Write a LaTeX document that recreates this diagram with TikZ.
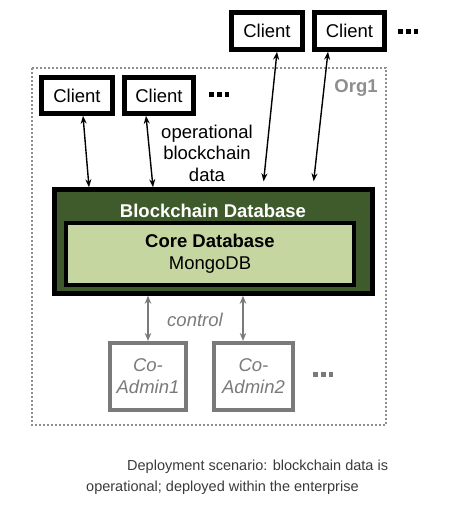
\documentclass[tikz,border=0pt]{standalone}
\usepackage{fontspec}
\setmainfont{Liberation Sans}
\usetikzlibrary{arrows.meta}
\definecolor{dkgreen}{HTML}{3F5A2B}
\definecolor{ltgreen}{HTML}{C5D6A0}
\definecolor{admgray}{HTML}{7A7A7A}
\definecolor{capgray}{HTML}{3A3A3A}
\tikzset{
  client/.style={draw=black, line width=4.5pt, fill=white, inner sep=0pt,
    font=\fontsize{18.5}{22}\selectfont},
  coadmin/.style={draw=admgray, line width=4.2pt, fill=white, inner sep=0pt, align=center,
    text=admgray, font=\fontsize{18.5}{22}\selectfont\itshape},
  link/.style={line width=1.4pt, {Stealth[length=8pt,width=6pt]}-{Stealth[length=8pt,width=6pt]}},
  ctrl/.style={draw=admgray, line width=2pt, {Stealth[length=8pt,width=6.5pt]}-{Stealth[length=8pt,width=6.5pt]}},
  lbl/.style={font=\fontsize{18.5}{21.5}\selectfont, align=center},
  dotsq/.style={fill=black, minimum size=5pt, inner sep=0pt},
}
\begin{document}
\begin{tikzpicture}[x=1pt,y=-1pt]
\useasboundingbox (0,0) rectangle (454,507);
% Org1 frame
\draw[admgray!85, line width=2.6pt, dash pattern=on 1.8pt off 2.2pt] (32,68) rectangle (386,425);
\node[font=\fontsize{18.5}{22}\selectfont\bfseries, text=admgray!85] (org) at (356,88) {Org1};
% top clients
\node[client, minimum width=71pt, minimum height=37pt] (tc1) at (267,31) {Client};
\node[client, minimum width=70pt, minimum height=37pt] (tc2) at (349.5,31) {Client};
\node[dotsq] (td1) at (400,31) {};
\node[dotsq] (td2) at (408,31) {};
\node[dotsq, minimum width=4pt] (td3) at (415.5,31) {};
% inner clients
\node[client, minimum width=71pt, minimum height=36pt] (c1) at (77,95.5) {Client};
\node[client, minimum width=69pt, minimum height=36pt] (c2) at (159,95.5) {Client};
\node[dotsq] (d1) at (211,94) {};
\node[dotsq] (d2) at (219,94) {};
\node[dotsq, minimum width=4pt] (d3) at (226.5,94) {};
% blockchain database
\node[draw=black, fill=dkgreen, line width=4.5pt, minimum width=318pt, minimum height=104pt, inner sep=0pt] (bdb) at (213.5,241.5) {};
\node[font=\fontsize{18.5}{22}\selectfont\bfseries, text=white] (bdbt) at (213,211) {Blockchain Database};
\node[draw=black, fill=ltgreen, line width=3.8pt, minimum width=288pt, minimum height=62pt, inner sep=0pt] (core) at (210,254) {};
\node[lbl, font=\fontsize{18.5}{22}\selectfont] (coret) at (210,254) {\textbf{Core Database}\\MongoDB};
% label
\node[lbl] (opl) at (207,153) {operational\\blockchain\\data};
% client links
\draw[link] ([xshift=6pt]c1.south) -- ([xshift=-124.5pt]bdb.north);
\draw[link] ([xshift=-13pt]c2.south) -- ([xshift=-60.5pt]bdb.north);
\draw[link, shorten >=6pt] ([xshift=10pt]tc1.south) -- ([xshift=49.5pt]bdb.north);
\draw[link, shorten >=6pt] ([xshift=-21.5pt]tc2.south) -- ([xshift=99.5pt]bdb.north);
% co-admins
\node[coadmin, minimum width=76pt, minimum height=67pt] (ca1) at (148,376.5) {Co-\\Admin1};
\node[coadmin, minimum width=79pt, minimum height=67pt] (ca2) at (253.5,376.5) {Co-\\Admin2};
\node[dotsq, fill=admgray] (ad1) at (315,374) {};
\node[dotsq, fill=admgray] (ad2) at (323,374) {};
\node[dotsq, fill=admgray, minimum width=4pt] (ad3) at (330.5,374) {};
\draw[ctrl] (ca1.north |- bdb.south) -- (ca1.north);
\draw[ctrl] ([xshift=-10.5pt]ca2.north |- bdb.south) -- ([xshift=-10.5pt]ca2.north);
\node[font=\fontsize{18.5}{22}\selectfont\itshape, text=admgray] (ctl) at (195,320) {control};
% caption
\node[anchor=west, inner sep=0pt, text=capgray, font=\fontsize{14.5}{20}\selectfont] (cap1) at (127,467) {Deployment scenario: blockchain data is};
\node[anchor=west, inner sep=0pt, text=capgray, font=\fontsize{14.5}{20}\selectfont] (cap2) at (86,488) {operational; deployed within the enterprise};
\end{tikzpicture}
\end{document}
